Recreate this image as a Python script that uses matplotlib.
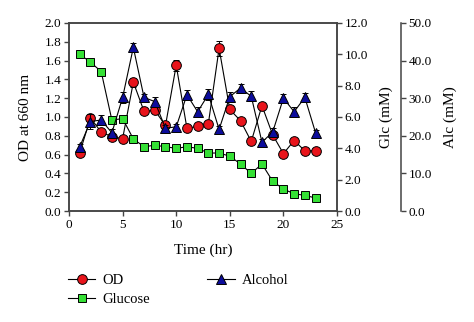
import numpy as np
import matplotlib
matplotlib.use("Agg")
from matplotlib import pyplot as plt
from matplotlib.lines import Line2D

# 数据
time_hr = [1, 2, 3, 4, 5, 6, 7, 8, 9, 10, 11, 12, 13, 14, 15, 16, 17, 18, 19, 20, 21, 22, 23]
od = [0.62, 0.99, 0.84, 0.79, 0.77, 1.37, 1.06, 1.07, 0.91, 1.55, 0.88, 0.90, 0.93,
      1.73, 1.08, 0.96, 0.74, 1.12, 0.81, 0.61, 0.75, 0.64, 0.64]
od_err = [0.02, 0.04, 0.02, 0.02, 0.02, 0.05, 0.03, 0.03, 0.03, 0.06, 0.02, 0.02, 0.02,
          0.08, 0.03, 0.02, 0.02, 0.03, 0.02, 0.02, 0.02, 0.02, 0.02]
glucose = [10.0, 9.5, 8.9, 5.8, 5.9, 4.6, 4.1, 4.2, 4.1, 4.0, 4.1, 4.0, 3.7,
           3.7, 3.5, 3.0, 2.4, 3.0, 1.9, 1.4, 1.1, 1.0, 0.83]
alcohol = [17.1, 23.8, 24.2, 20.8, 30.2, 43.5, 30.2, 29.1, 22.0, 22.4, 30.9, 26.4, 31.0,
           21.7, 30.4, 32.7, 30.5, 18.3, 21.0, 30.0, 26.4, 30.2, 20.8]
alcohol_err = [0.8, 2.0, 1.2, 1.0, 1.5, 1.2, 1.0, 1.3, 1.0, 0.8, 1.3, 1.2, 1.5,
               1.0, 1.3, 1.2, 1.3, 0.8, 1.0, 1.0, 1.2, 1.2, 0.8]

plt.rcParams['font.family'] = ['Liberation Serif', 'DejaVu Serif']
spine_color = '#444444'
od_style = dict(color='black', lw=0.8, marker='o', ms=7, mfc='#e8141b', mec='black', mew=0.7)
glc_style = dict(color='black', lw=0.8, marker='s', ms=6, mfc='#35e035', mec='black', mew=0.7)
alc_style = dict(color='black', lw=0.8, marker='^', ms=7.5, mfc='#0c0c9c', mec='black', mew=0.7)

fig = plt.figure(figsize=(4.74, 3.22), dpi=100)
ax = fig.add_axes([0.1456, 0.3447, 0.5654, 0.5839])
ax2 = ax.twinx()
ax3 = ax.twinx()

# OD
ax.errorbar(time_hr, od, yerr=od_err, capsize=2.5, elinewidth=0.7, **od_style)
# 葡萄糖
ax2.plot(time_hr, glucose, **glc_style)
# 酒精
ax3.errorbar(time_hr, alcohol, yerr=alcohol_err, capsize=2.5, elinewidth=0.7, **alc_style)

ax.set_xlim(0, 25)
ax.set_xticks([0, 5, 10, 15, 20, 25])
ax.set_ylim(0, 2.0)
ax.set_yticks(np.arange(0, 2.01, 0.2))
ax.set_yticklabels(['%.1f' % v for v in np.arange(0, 2.01, 0.2)])
ax2.set_ylim(0, 12)
ax2.set_yticks(np.arange(0, 12.1, 2))
ax2.set_yticklabels(['%.1f' % v for v in np.arange(0, 12.1, 2)])
ax3.set_ylim(0, 50)
ax3.set_yticks(np.arange(0, 50.1, 10))
ax3.set_yticklabels(['%.1f' % v for v in np.arange(0, 50.1, 10)])

ax3.spines['right'].set_position(('axes', 1.239))
for side in ('top', 'left', 'bottom'):
    ax3.spines[side].set_visible(False)

for a in (ax, ax2, ax3):
    for s in a.spines.values():
        s.set_color(spine_color)
        s.set_linewidth(1.1)
    a.tick_params(direction='out', length=3.5, width=1.0, color=spine_color,
                  labelsize=9.5, pad=2)

ax.set_ylabel('OD at 660 nm', fontsize=11, labelpad=9)
ax.set_xlabel('Time (hr)', fontsize=11, labelpad=9)
ax2.set_ylabel('Glc (mM)', fontsize=11, labelpad=8)
ax3.set_ylabel('Alc (mM)', fontsize=11, labelpad=8)

handles = [Line2D([], [], **od_style), Line2D([], [], **glc_style), Line2D([], [], **alc_style)]
fig.legend(handles, ['OD', 'Glucose', 'Alcohol'], loc='upper left', bbox_to_anchor=(0.143, 0.15),
           ncol=2, frameon=False, fontsize=10.5, handlelength=1.9, handletextpad=0.5,
           labelspacing=0.4, columnspacing=3.9, borderaxespad=0, borderpad=0)

fig.savefig('out.png', dpi=100)
